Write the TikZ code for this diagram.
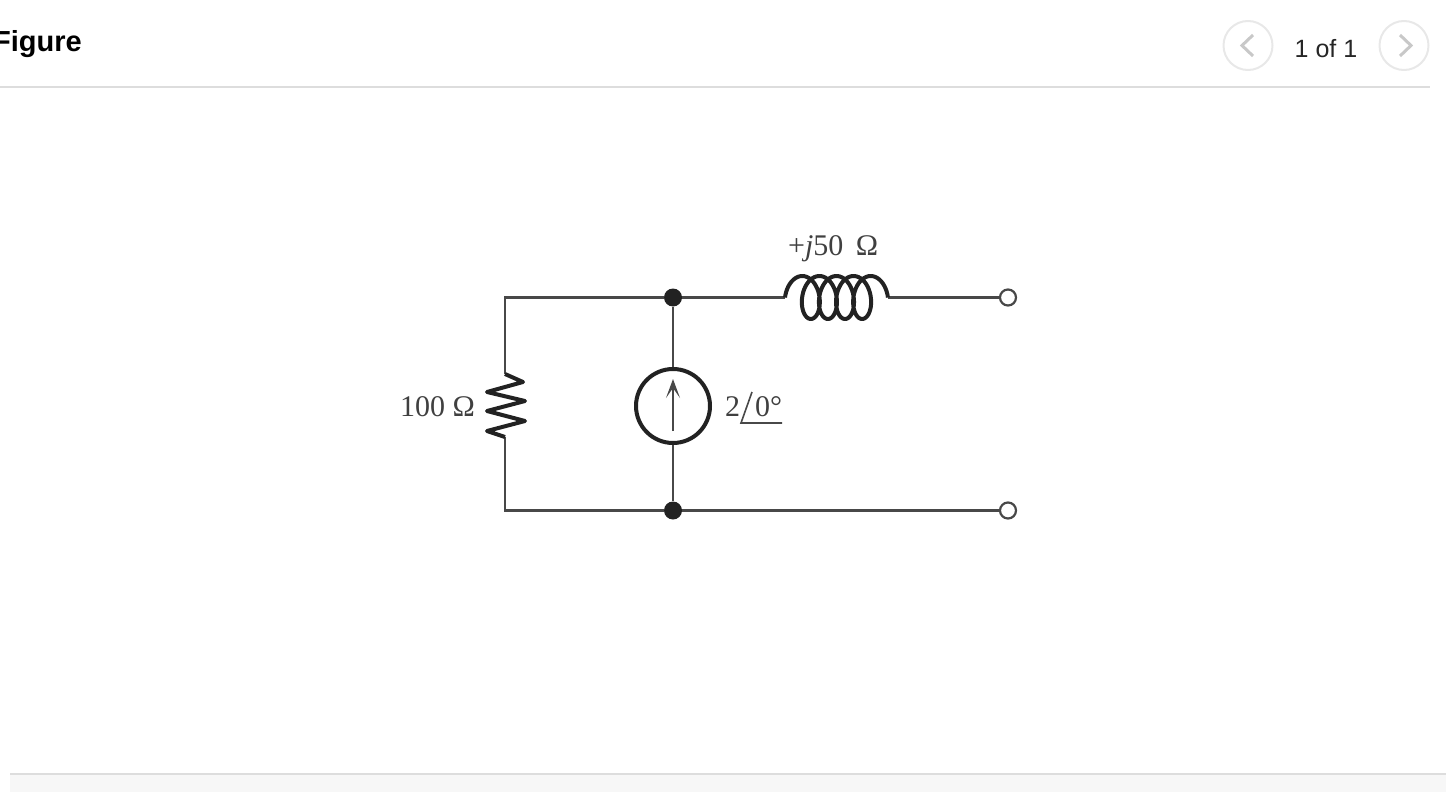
\documentclass[tikz,border=0pt]{standalone}
\usepackage{fontspec}
\setmainfont{Liberation Serif}
\newfontfamily\uifont{Liberation Sans}
\usetikzlibrary{arrows.meta}
\definecolor{wirecol}{HTML}{484848}
\definecolor{partcol}{HTML}{222222}
\definecolor{rulecol}{HTML}{DDDDDD}
\definecolor{navcol}{HTML}{E8E8E8}
\definecolor{chevcol}{HTML}{C8C8C8}
\tikzset{
  wire/.style={draw=wirecol, line width=2.2pt},
  part/.style={draw=partcol, line width=4pt, line join=round},
  dotnode/.style={circle, fill=partcol, inner sep=0pt, minimum size=18pt},
  termnode/.style={circle, draw=wirecol, fill=white, line width=2.2pt, inner sep=0pt, minimum size=16pt},
  srcnode/.style={circle, draw=partcol, fill=white, line width=4pt, inner sep=0pt, minimum size=74pt},
  navnode/.style={circle, draw=navcol, line width=2pt, inner sep=0pt, minimum size=49pt},
  lab/.style={font=\fontsize{30}{30}\selectfont, text=black!75, inner sep=0pt}
}
\begin{document}
\begin{tikzpicture}[x=1pt, y=-1pt]
\useasboundingbox (0,0) rectangle (1446,792);
% page furniture
\fill [black!3] (10,773) rectangle (1446,792);
\coordinate (ruleA) at (0,87);
\coordinate (ruleB) at (1430,87);
\coordinate (footA) at (10,773.5);
\coordinate (footB) at (1446,773.5);
\draw [rulecol, line width=2pt] (ruleA) -- (ruleB);
\draw [rulecol, line width=2pt] (footA) -- (footB);
\node [anchor=base east, inner sep=0pt, font=\uifont\bfseries\fontsize{29}{29}\selectfont] (title) at (82,52) {Figure};
\node [anchor=base, inner sep=0pt, font=\uifont\fontsize{25}{25}\selectfont, text=black!85] (pager) at (1326,58) {1 of 1};
\node [navnode] (prev) at (1248,45.5) {};
\node [navnode] (next) at (1404,45.5) {};
\draw [chevcol, line width=3pt] (1253,35) -- (1242,45.5) -- (1253,56);
\draw [chevcol, line width=3pt] (1400,35) -- (1411,45.5) -- (1400,56);
% circuit
\node [dotnode] (top) at (673,297.5) {};
\node [dotnode] (bot) at (673,510.5) {};
\node [termnode] (termA) at (1008,297.5) {};
\node [termnode] (termB) at (1008,510.5) {};
\node [srcnode] (src) at (673,406) {};
\coordinate (cornerA) at (505,297.5);
\coordinate (cornerB) at (505,510.5);
\coordinate (resA) at (505,374);
\coordinate (resB) at (505,437);
\coordinate (indA) at (785,297.5);
\coordinate (indB) at (888,297.5);
\coordinate (arrA) at (673,431);
\coordinate (arrB) at (673,379);
\draw [wire] (top) -- (cornerA) -- (resA);
\draw [wire] (resB) -- (cornerB) -- (bot);
\draw [wire] (top) -- (src);
\draw [wire] (src) -- (bot);
\draw [wire] (top) -- (indA);
\draw [wire] (indB) -- (termA);
\draw [wire] (bot) -- (termB);
\draw [part] (resA) -- (523,382) -- (487,392) -- (525,401) -- (487,411) -- (525,421) -- (487,431) -- (resB);
\draw [part] plot [domain=0:1620, samples=200, smooth] ({785+0.0475*\x+13*(1-cos(\x))}, {297.5-21.5*sin(\x)});
\draw [wirecol, line width=2pt, -{Stealth[length=19pt, width=14pt, inset=10pt]}] (arrA) -- (arrB);
\node [lab, anchor=base east] (resLab) at (475,416) {100 Ω};
\node [lab, anchor=base west] (indLab) at (788,255) {+\textit{j}50\hspace{5pt} Ω};
\node [lab, anchor=base west] (srcLab) at (725,416) {2};
\node [lab, anchor=base west] (angLab) at (755,416) {0°};
\draw [wirecol, line width=1.6pt] (752,392) -- (741,423) -- (782,423);
\end{tikzpicture}
\end{document}
